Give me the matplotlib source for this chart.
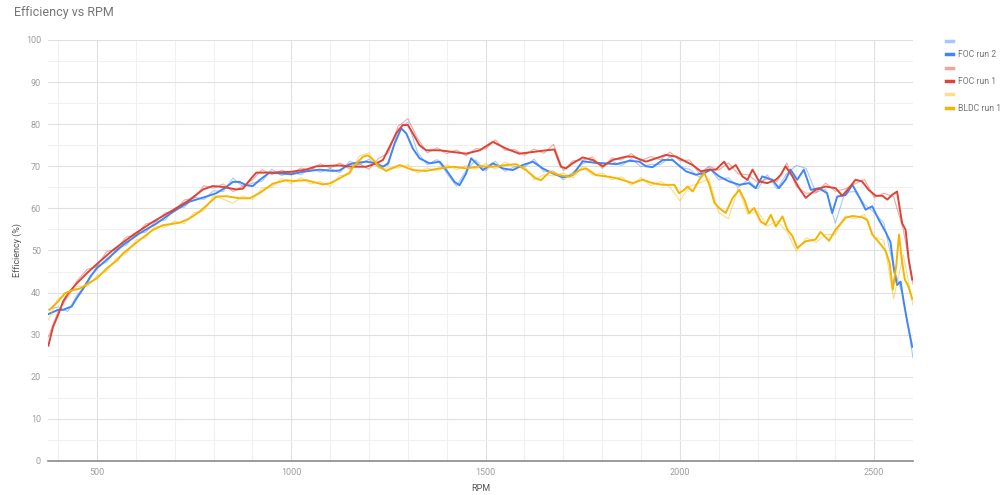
import numpy as np
import matplotlib
matplotlib.use("Agg")
from matplotlib import pyplot as plt
from matplotlib.lines import Line2D
from matplotlib.ticker import MultipleLocator

plt.rcParams['font.family'] = ['Roboto', 'DejaVu Sans']

# smoothed curves (rpm, efficiency %)
foc2_rpm = [375, 400, 413, 435, 448, 465, 483, 500, 526, 567, 610, 653, 696, 738, 781, 807, 833, 850,
            867, 884, 901, 918, 944, 1000, 1030, 1073, 1107, 1124, 1150, 1167, 1193, 1219, 1236, 1249,
            1266, 1283, 1296, 1313, 1330, 1356, 1382, 1399, 1420, 1433, 1450, 1463, 1476, 1493, 1519,
            1544, 1570, 1596, 1622, 1647, 1673, 1699, 1724, 1750, 1784, 1810, 1836, 1870, 1896, 1913,
            1930, 1956, 1981, 2016, 2041, 2063, 2080, 2101, 2127, 2153, 2178, 2195, 2212, 2238, 2255,
            2272, 2285, 2302, 2319, 2337, 2358, 2379, 2392, 2405, 2427, 2444, 2461, 2478, 2495, 2512,
            2529, 2542, 2551, 2559, 2568, 2576, 2585, 2598]
foc2_eff = [34.9, 35.9, 35.9, 36.7, 38.7, 41.0, 43.8, 45.8, 47.9, 51.3, 54.1, 56.4, 59.2, 61.6, 62.8, 63.6,
            65.1, 66.3, 66.3, 65.5, 65.3, 66.7, 68.5, 68.1, 68.7, 69.2, 68.9, 69.0, 70.5, 70.8, 71.1, 70.7,
            69.9, 70.7, 75.4, 79.0, 77.8, 74.2, 71.9, 70.7, 71.1, 69.1, 66.3, 65.5, 68.3, 71.9, 70.7, 69.1,
            70.7, 69.5, 69.1, 70.3, 71.1, 69.5, 68.3, 67.4, 67.9, 71.2, 70.8, 70.7, 70.5, 71.3, 71.1, 70.0,
            69.8, 71.5, 71.5, 68.8, 68.0, 68.4, 69.2, 67.6, 66.4, 65.6, 66.0, 64.8, 67.6, 66.8, 64.8, 66.8,
            69.2, 66.8, 69.2, 64.4, 64.8, 63.6, 58.9, 62.8, 63.2, 65.6, 62.8, 59.7, 60.5, 57.3, 54.5, 52.0,
            45.5, 41.8, 42.6, 37.8, 33.2, 27.1]

foc1_rpm = [375, 387, 400, 413, 426, 448, 474, 500, 541, 593, 644, 696, 738, 773, 798, 824, 858, 876,
            893, 910, 953, 1000, 1038, 1064, 1124, 1159, 1193, 1219, 1236, 1253, 1270, 1287, 1300, 1313,
            1330, 1347, 1382, 1416, 1450, 1485, 1519, 1553, 1587, 1622, 1656, 1677, 1694, 1707, 1724,
            1750, 1776, 1802, 1827, 1862, 1879, 1913, 1939, 1964, 1990, 2007, 2033, 2054, 2076, 2093,
            2105, 2114, 2127, 2144, 2161, 2174, 2187, 2204, 2225, 2247, 2260, 2272, 2290, 2307, 2324,
            2349, 2375, 2401, 2418, 2435, 2452, 2469, 2486, 2504, 2521, 2534, 2546, 2559, 2572, 2581,
            2589, 2598]
foc1_eff = [27.4, 31.9, 34.7, 37.9, 39.8, 42.2, 44.6, 46.8, 50.1, 53.7, 56.8, 59.6, 62.0, 64.5, 65.3, 65.1,
            64.5, 64.7, 66.7, 68.5, 68.5, 68.7, 69.2, 70.0, 70.2, 69.9, 69.9, 70.7, 71.5, 74.6, 77.8, 79.8,
            79.8, 77.8, 75.0, 73.8, 73.8, 73.4, 73.0, 73.8, 75.8, 74.2, 73.0, 73.4, 73.8, 74.0, 69.9, 69.5,
            70.7, 72.1, 71.5, 70.0, 71.5, 72.3, 72.3, 71.1, 71.9, 72.7, 72.3, 71.5, 70.3, 68.8, 69.2, 69.2,
            70.3, 71.1, 69.2, 70.3, 67.6, 66.8, 69.2, 66.4, 66.0, 66.8, 68.0, 70.0, 67.6, 64.8, 62.5, 64.4,
            65.2, 64.8, 63.0, 64.8, 66.8, 66.4, 64.4, 63.0, 63.0, 62.1, 63.2, 64.0, 56.5, 54.9, 47.8, 43.1]

bldc1_rpm = [378, 400, 417, 435, 457, 478, 500, 526, 552, 567, 610, 644, 670, 713, 738, 764, 781, 807,
             833, 867, 893, 918, 953, 987, 1004, 1038, 1064, 1081, 1098, 1124, 1150, 1159, 1185, 1197,
             1210, 1227, 1244, 1279, 1313, 1347, 1382, 1416, 1450, 1485, 1519, 1553, 1579, 1604, 1630,
             1643, 1665, 1690, 1716, 1742, 1759, 1784, 1819, 1844, 1879, 1904, 1930, 1956, 1986, 1998,
             2011, 2020, 2033, 2050, 2063, 2076, 2089, 2101, 2118, 2136, 2153, 2166, 2178, 2191, 2208,
             2221, 2234, 2247, 2264, 2277, 2290, 2302, 2324, 2349, 2362, 2384, 2401, 2427, 2444, 2469,
             2482, 2495, 2512, 2529, 2540, 2548, 2557, 2564, 2571, 2579, 2588, 2598]
bldc1_eff = [35.9, 37.9, 39.8, 40.5, 41.0, 42.2, 43.4, 45.8, 47.7, 49.3, 52.5, 54.9, 56.0, 56.6, 57.6, 59.2,
             60.6, 62.8, 62.9, 62.4, 62.4, 63.6, 65.9, 66.7, 66.5, 66.7, 66.1, 65.7, 65.9, 67.1, 68.5, 69.9,
             72.3, 72.6, 71.6, 69.9, 68.9, 70.3, 69.1, 68.9, 69.5, 69.9, 69.5, 70.0, 69.9, 70.3, 70.5, 69.1,
             67.1, 66.7, 68.7, 67.9, 67.5, 69.1, 69.5, 67.9, 67.5, 67.0, 66.0, 66.8, 66.0, 65.6, 65.6, 63.6,
             64.4, 65.2, 64.0, 66.8, 68.4, 65.6, 61.3, 60.1, 58.9, 62.5, 64.4, 62.1, 58.9, 60.1, 56.9, 56.1,
             58.5, 55.7, 58.1, 54.9, 53.4, 50.6, 52.2, 52.6, 54.4, 52.3, 55.0, 57.8, 58.2, 57.9, 57.3, 53.8,
             52.0, 50.0, 47.0, 40.7, 46.5, 53.8, 47.8, 43.1, 41.5, 38.5]

# raw measurements, every 25 rpm from 375 to 2600
raw_rpm = np.arange(375, 2601, 25)
foc2_raw = [36.0, 36.6, 35.5, 39.6, 42.0, 46.4, 47.2, 50.5, 51.2, 54.1, 54.3, 56.9, 57.2, 60.0, 60.3, 62.7,
            62.1, 64.2, 64.0, 67.2, 65.2, 66.0, 66.5, 69.3, 67.8, 68.7, 68.0, 69.7, 68.6, 69.5, 68.5, 71.2,
            70.3, 71.7, 69.8, 70.3, 78.8, 80.5, 73.3, 70.4, 71.6, 68.4, 65.3, 69.0, 71.5, 68.9, 71.2, 68.8,
            69.9, 69.8, 71.7, 68.7, 68.9, 66.8, 68.6, 70.6, 71.5, 70.1, 71.2, 70.2, 71.8, 69.9, 70.5, 70.4,
            72.3, 69.8, 69.3, 67.4, 69.8, 66.8, 67.3, 65.0, 66.8, 64.6, 68.0, 64.6, 68.3, 70.2, 69.5, 63.8,
            64.6, 56.5, 63.8, 64.0, 61.0, 59.0, 56.5, 46.0, 39.0, 24.5]
foc1_raw = [29.5, 35.5, 39.0, 43.0, 45.5, 46.2, 49.8, 50.2, 53.2, 53.6, 56.3, 56.8, 58.9, 59.4, 62.0, 62.4,
            65.4, 64.8, 65.8, 64.0, 65.3, 66.8, 69.2, 68.0, 69.1, 68.2, 69.6, 69.1, 70.6, 69.6, 70.8, 69.4,
            70.6, 69.3, 71.9, 73.2, 79.5, 81.3, 76.6, 73.2, 74.4, 73.0, 73.9, 72.5, 74.2, 74.1, 76.3, 73.8,
            74.0, 72.6, 74.1, 73.1, 75.2, 69.0, 71.3, 71.5, 72.2, 69.5, 72.0, 71.5, 73.0, 71.3, 72.3, 71.6,
            73.4, 71.3, 71.5, 68.3, 70.0, 69.1, 70.8, 68.2, 68.0, 66.2, 67.0, 66.3, 70.8, 65.2, 63.6, 63.7,
            66.0, 64.1, 64.6, 65.8, 66.9, 62.6, 63.6, 62.8, 55.0, 42.0]
bldc1_raw = [33.5, 38.6, 39.5, 41.5, 41.4, 44.0, 45.1, 48.2, 49.2, 52.5, 53.0, 55.8, 55.5, 57.0, 56.4, 59.0,
             59.4, 63.0, 62.2, 61.2, 63.0, 62.1, 64.8, 65.0, 67.1, 65.9, 67.3, 65.8, 66.4, 65.2, 67.8, 68.0,
             72.4, 73.2, 69.5, 69.6, 69.6, 70.4, 68.4, 69.6, 68.8, 70.4, 69.2, 70.2, 69.3, 70.7, 69.3, 71.0,
             69.9, 70.0, 66.8, 68.0, 67.7, 68.4, 67.3, 70.0, 67.9, 68.4, 66.8, 67.5, 65.5, 67.3, 65.4, 66.4,
             65.0, 61.8, 65.2, 66.0, 67.0, 59.0, 57.5, 64.8, 58.6, 59.3, 55.8, 57.0, 54.5, 49.8, 53.0, 51.9,
             53.8, 53.8, 58.2, 57.5, 58.6, 53.2, 52.4, 38.5, 49.0, 37.0]

blue, red, yellow = '#4285f4', '#db4437', '#f4b400'
light_blue, light_red, light_yellow = '#a6c5fa', '#eea59b', '#fbde8a'

fig = plt.figure(figsize=(10, 4.95), dpi=100)
ax = fig.add_axes([0.048, 0.0687, 0.865, 0.8505])

ax.plot(raw_rpm, foc2_raw, color=blue, alpha=0.45, lw=0.8)
ax.plot(foc2_rpm, foc2_eff, color=blue, lw=1.4)
ax.plot(raw_rpm, foc1_raw, color=red, alpha=0.45, lw=0.8)
ax.plot(foc1_rpm, foc1_eff, color=red, lw=1.4)
ax.plot(raw_rpm, bldc1_raw, color=yellow, alpha=0.45, lw=0.8)
ax.plot(bldc1_rpm, bldc1_eff, color=yellow, lw=1.4)

ax.set_xlim(374, 2600)
ax.set_ylim(0, 100)
ax.yaxis.set_major_locator(MultipleLocator(10))
ax.yaxis.set_minor_locator(MultipleLocator(5))
ax.xaxis.set_major_locator(MultipleLocator(500))
ax.xaxis.set_minor_locator(MultipleLocator(100))
ax.grid(which='major', color='#e0e0e0', lw=0.8)
ax.grid(which='minor', color='#f0f0f0', lw=0.8)
ax.set_axisbelow(True)
for s in ['top', 'right', 'left']:
    ax.spines[s].set_visible(False)
ax.spines['bottom'].set_color('#8a8a8a')
ax.spines['bottom'].set_linewidth(1.2)
ax.tick_params(which='both', length=0, labelsize=6.5, labelcolor='#9e9e9e', pad=5)

ax.set_xlabel('RPM', fontsize=6.5, color='#555555', labelpad=5)
ax.set_ylabel('Efficiency (%)', fontsize=6.5, color='#555555', labelpad=3)
fig.text(0.014, 0.975, 'Efficiency vs RPM', fontsize=9, color='#757575', va='center')

handles = [Line2D([], [], color=c, lw=2.5) for c in [light_blue, blue, light_red, red, light_yellow, yellow]]
labels = ['', 'FOC run 2', '', 'FOC run 1', '', 'BLDC run 1']
fig.legend(handles, labels, loc='upper left', bbox_to_anchor=(0.943, 0.932), frameon=False,
           fontsize=6.2, labelcolor='#757575', handlelength=0.8, handletextpad=0.5,
           labelspacing=0.5, borderaxespad=0)

fig.savefig('out.png', dpi=100)
